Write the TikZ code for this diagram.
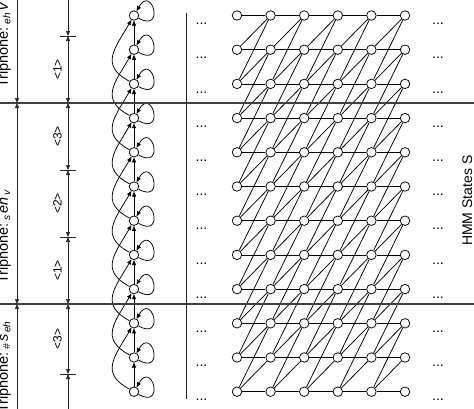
\documentclass[tikz,border=0pt]{standalone}
\usepackage{fontspec}
\setmainfont{Liberation Sans}
\usetikzlibrary{arrows.meta}
\begin{document}
\begin{tikzpicture}[x=1pt,y=-1pt,
  st/.style={circle,draw,fill=white,inner sep=0pt,minimum size=9.5pt,line width=0.75pt},
  ln/.style={line width=0.75pt},
  tip/.style={-{Triangle[length=5pt,width=4pt]}},
  dim/.style={{Triangle[length=5pt,width=4pt]}-{Triangle[length=5pt,width=4pt]},line width=0.7pt,black!85},
  divider/.style={line width=1.1pt,black!75},
  dots/.style={font=\fontsize{14}{14}\selectfont,anchor=base,inner sep=0pt},
  seg/.style={font=\fontsize{12}{12}\selectfont,rotate=90,inner sep=0pt},
  tri/.style={font=\fontsize{14.5}{14.5}\selectfont,rotate=90,anchor=base west,inner sep=0pt},
  ttl/.style={font=\fontsize{14}{14}\selectfont,rotate=90,anchor=base west,inner sep=0pt}
]
\clip (0,0) rectangle (474,408);
\fill[white] (0,0) rectangle (474,408);

% states
\foreach \r in {0,...,11} {
  \pgfmathsetmacro\yy{15.5+34.2*\r}
  \node[st] (c\r) at (134,\yy) {};
  \foreach \c in {0,...,5} {
    \node[st] (t\c-\r) at ({237+33.6*\c},\yy) {};
  }
  \node[dots] (dl\r) at (201.5,\yy+9.2) {...};
  \node[dots] (dr\r) at (438,\yy+9.2) {...};
}

% trellis edges
\foreach \c [count=\cn from 1] in {0,...,4} {
  \foreach \r in {0,...,11} { \draw[ln] (t\c-\r) -- (t\cn-\r); }
  \foreach \r [count=\ra from 0] in {1,...,11} { \draw[ln] (t\c-\r) -- (t\cn-\ra); }
  \foreach \r [count=\ra from 0] in {2,...,11} { \draw[ln] (t\c-\r) -- (t\cn-\ra); }
}

% left HMM chain
\foreach \r [count=\rp from 1] in {0,...,10} { \draw[ln,tip] (c\rp) -- (c\r); }
\foreach \r [count=\rp from 2] in {0,...,9} {
  \draw[ln,tip] (c\rp.150) .. controls +(-30,-16) and +(-17,29) .. (c\r.240);
}
\foreach \r in {0,...,11} {
  \draw[ln,tip] (c\r.-30) .. controls +(27,15.5) and +(15.5,-27) .. (c\r.60);
}

% separator lines
\coordinate (h1l) at (0,103); \coordinate (h1r) at (474,103);
\coordinate (h2l) at (0,304); \coordinate (h2r) at (474,304);
\draw[divider] (h1l) -- (h1r);
\draw[divider] (h2l) -- (h2r);
\coordinate (v1) at (186,13); \coordinate (v2) at (186,399);
\draw[ln,black!85] (v1) -- (v2);

% triphone dimension line
\coordinate (a0) at (17,-20); \coordinate (a1) at (17,103);
\coordinate (a2) at (17,304); \coordinate (a3) at (17,430);
\draw[dim] (a0) -- (a1);
\draw[dim] (a1) -- (a2);
\draw[dim] (a2) -- (a3);

% state dimension line
\foreach \y [count=\i] in {-20,36,103,170,237,304,374,430} { \coordinate (b\i) at (68,\y); }
\foreach \i [count=\j from 2] in {1,...,7} { \draw[dim] (b\i) -- (b\j); }
\foreach \y [count=\i] in {36,170,237,374} {
  \coordinate (kl\i) at (60,\y); \coordinate (kr\i) at (76,\y);
  \draw[ln,black!85] (kl\i) -- (kr\i);
}

% segment labels
\node[seg] (s1) at (57.5,69.5) {<1>};
\node[seg] (s2) at (57.5,136.5) {<3>};
\node[seg] (s3) at (57.5,203.5) {<2>};
\node[seg] (s4) at (57.5,270.5) {<1>};
\node[seg] (s5) at (57.5,339) {<3>};

% triphone labels
\node[tri] (p1) at (8,88) {Triphone:\hspace{0.2em}\textsubscript{\itshape eh}\hspace{0.1em}\textit{v}};
\node[tri] (p2) at (8,284) {Triphone:\hspace{0.2em}\textsubscript{\itshape s}\hspace{0.1em}\textit{eh}\hspace{0.1em}\textsubscript{\itshape v}};
\node[tri] (p3) at (8,413) {Triphone:\hspace{0.2em}\textsubscript{\itshape \#}\hspace{0.1em}\textit{s}\hspace{0.1em}\textsubscript{\itshape eh}};

% axis title
\node[ttl] (ht) at (472,246) {HMM States S};
\end{tikzpicture}
\end{document}
